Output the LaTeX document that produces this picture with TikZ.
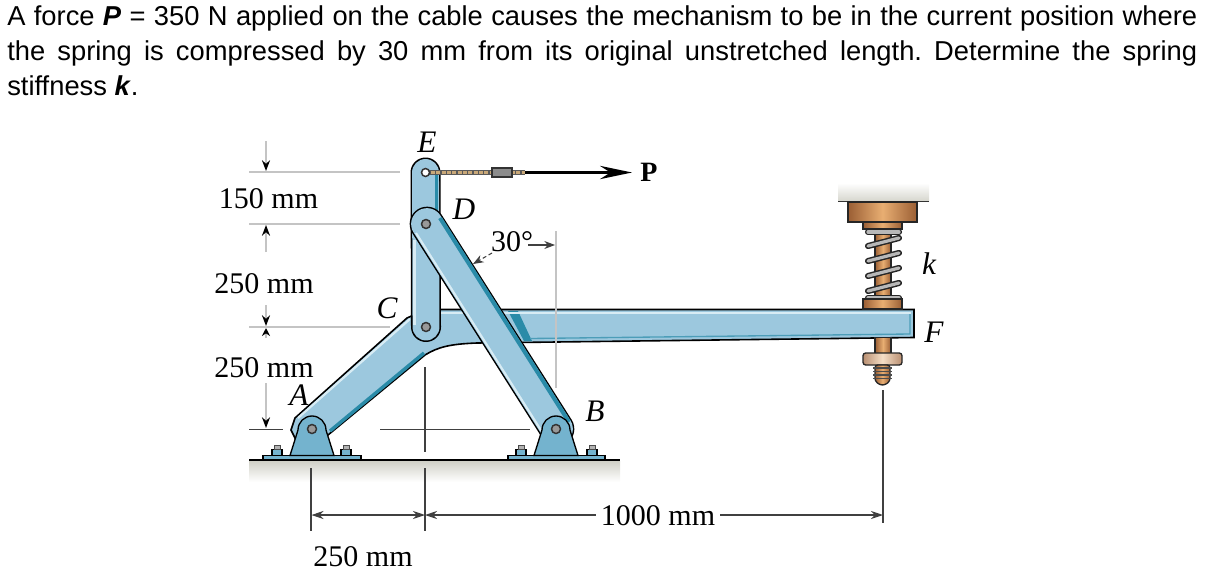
\documentclass[tikz,border=0pt]{standalone}
\usepackage{fontspec}
\setmainfont{Liberation Serif}
\newfontfamily\arialf{Liberation Sans}
\usetikzlibrary{arrows.meta}
\definecolor{blu}{HTML}{9CC8DE}
\definecolor{teal2}{HTML}{2A8BA8}
\definecolor{lite}{HTML}{D8ECF4}
\definecolor{clev}{HTML}{74B3CE}
\definecolor{dimgray}{HTML}{C4C4C4}
\definecolor{cu}{HTML}{B87A48}
\definecolor{cul}{HTML}{E8AE72}
\definecolor{cud}{HTML}{9A5E34}
\definecolor{tan2}{HTML}{C9A878}
\tikzset{
  x=0.75pt,y=-0.75pt,
  lab/.style={inner sep=0pt,font=\fontsize{22.5}{27}\selectfont},
  ilab/.style={inner sep=0pt,font=\fontsize{23.5}{26}\selectfont\itshape},
  extl/.style={draw=dimgray,line width=2pt},
  thinl/.style={draw=black!75,line width=0.8pt},
  body/.style={draw=black,line width=1.2pt,fill=blu},
  pinout/.style={draw=black!80,fill=black!40,line width=1.1pt},
  plate/.style={draw=black,line width=1pt,fill=clev},
  copper/.style={draw=black!85,line width=1pt,left color=cud,right color=cud,middle color=cul},
  strand/.style={line cap=round,line width=4.6pt,draw=black!85},
  strandin/.style={line cap=round,line width=2.4pt,draw=black!28},
}
\begin{document}
\begin{tikzpicture}
\useasboundingbox (0,0) rectangle (1207,578);
\node[anchor=north west,inner sep=0pt,text width=892.5pt,align=justify,font=\arialf\fontsize{20.5}{26.25}\selectfont\frenchspacing] (prob) at (7,5.5)
 {A force \textbf{\textit{P}} = 350 N applied on the cable causes the mechanism to be in the current position where\linebreak
  the spring is compressed by 30 mm from its original unstretched length. Determine the spring\linebreak
  stiffness \textbf{\textit{k}}.};
% named points
\coordinate (E) at (425.5,172.5);
\coordinate (D) at (426,224);
\coordinate (Dc) at (427,224);
\coordinate (Bc) at (557,429);
\coordinate (C) at (426,327);
\coordinate (A) at (312,429);
\coordinate (B) at (556,429);
% ground
\shade[top color=black!5!yellow!10!gray!40,bottom color=white] (249,461) rectangle (620,482);
\draw[black,line width=1pt] (249,460) -- (620,460);
% ceiling
\shade[top color=white,bottom color=black!5!yellow!10!gray!35] (838,183) rectangle (929,201);
\draw[black!80,line width=1pt] (838,201.5) -- (929,201.5);
% extension and centre lines
\draw[extl] (249,172) -- (400,172);
\draw[extl] (249,224) -- (400,224);
\draw[extl] (249,327) -- (390,327);
\draw[thinl] (249,429.5) -- (283,429.5);
\draw[thinl] (380,429.5) -- (530,429.5);
\draw[thinl] (425,367) -- (425,452);
\draw[thinl] (425,468) -- (425,531);
\draw[thinl] (311,468) -- (311,531);
\draw[thinl] (883,390) -- (883,523);
% bent member
\draw[body] (914,309.5) -- (914,337.5) -- (477,343) .. controls (450,344) and (438,347) .. (425,355) -- (328,435)
   -- (312,442) -- (296,440) -- (291,430) -- (295,418) -- (407,318) -- (426,309.5) -- cycle;
\fill[teal2] (508,311) -- (518,311) -- (532,341) -- (524,341) -- cycle;
\draw[teal2,line width=2.6pt] (330,431) -- (424,353);
\draw[lite,line width=1.6pt] (298,418) -- (410,319);
\draw[lite,line width=1.2pt] (440,313) -- (911,313);
\draw[teal2!70!blu,line width=1pt] (910,314) -- (910,334) -- (530,338.5);
% 30 deg reference line over member
\draw[extl] (556,231) -- (556,388);
% EC link
\draw[black,line width=22.5pt,line cap=round] (E) -- (C);
\draw[blu,line width=20.2pt,line cap=round] (E) -- (C);
\draw[teal2,line width=2.6pt] (436.5,174) -- (436.5,222);
\draw[lite,line width=1.6pt] (414.5,240) -- (414.5,325);
\draw[pinout] (C) circle[radius=4.5];
% DB link
\draw[black,line width=26pt,line cap=round] (Dc) -- (Bc);
\draw[blu,line width=23.8pt,line cap=round] (Dc) -- (Bc);
\draw[teal2,line width=3pt] (440,218) -- (569,422);
\draw[lite,line width=1.6pt] (416,233) -- (544,435);
\draw[pinout] (D) circle[radius=4.5];
% supports
\foreach \cx/\pl/\pr/\ba/\bb in {312/263/361/277/346,556/508/605/521/592}{
  \draw[plate] (\pl,455.5) rectangle (\pr,460);
  \draw[plate] (\ba-5,449.5) rectangle (\ba+5,455.5);
  \draw[plate] (\bb-5,449.5) rectangle (\bb+5,455.5);
  \fill[black!30,draw=black!70,line width=.5pt] (\ba-3,449.5) rectangle (\ba+3,445.5);
  \fill[black!30,draw=black!70,line width=.5pt] (\bb-3,449.5) rectangle (\bb+3,445.5);
  \draw[plate] (\cx-22,455.5) -- (\cx-14,430) arc[start angle=180,end angle=360,radius=14] -- (\cx+22,455.5) -- cycle;
  \draw[pinout] (\cx,429) circle[radius=4.5];
}
% cable
\draw[black,line width=2.2pt] (520,172.5) -- (600,172.5);
\draw[-{Stealth[length=24pt,width=10pt]},black,line width=1.6pt] (590,172.5) -- (632,172.5);
\draw[draw=black!65,line width=3.6pt] (E) -- (525,172.5);
\draw[draw=tan2,line width=2.4pt,dash pattern=on 3pt off 1pt] (E) -- (525,172.5);
\draw[pinout,fill=white] (E) circle[radius=4];
\fill[black!45,draw=black!80,line width=.8pt] (492,168) rectangle (512,177);
% spring assembly
\draw[copper] (848,202) rectangle (917,222);
\draw[copper] (875,222) rectangle (891,300);
\draw[copper] (863,222) rectangle (902,229);
\foreach \yl/\yr in {232/232,246/238,261/253,276/268,291/283,298/298}{
  \draw[strand] (868,\yl) -- (899,\yr);
  \draw[strandin] (868,\yl) -- (899,\yr);
}
\draw[copper] (863,299) rectangle (902,309);
\draw[copper] (875,337.5) rectangle (891,354);
\draw[draw=black!85,line width=1pt,left color=cud!70,right color=cud!70,middle color=cul!40,rounded corners=2pt] (863,353) rectangle (902,365);
\draw[copper,rounded corners=2pt] (875,365) -- (875,381) -- (880,385) -- (885,385) -- (890,381) -- (890,365) -- cycle;
\foreach \t in {368,371.5,375,378.5}{\draw[black!70,line width=1.2pt] (873,\t) -- (892,\t);}
% dimension arrows
\coordinate (d1) at (266,141); \coordinate (d1e) at (266,171);
\coordinate (d2) at (266,252); \coordinate (d2e) at (266,225);
\coordinate (d3) at (266,305); \coordinate (d3e) at (266,326);
\coordinate (d4) at (266,338); \coordinate (d4e) at (266,328);
\coordinate (d5) at (266,383); \coordinate (d5e) at (266,428);
\draw[extl,-{Stealth[length=8pt,width=6pt,black]}] (d1) -- (d1e);
\draw[extl,-{Stealth[length=8pt,width=6pt,black]}] (d2) -- (d2e);
\draw[extl,-{Stealth[length=8pt,width=6pt,black]}] (d3) -- (d3e);
\draw[extl,-{Stealth[length=6pt,width=6pt,black]}] (d4) -- (d4e);
\draw[extl,-{Stealth[length=8pt,width=6pt,black]}] (d5) -- (d5e);
\coordinate (h1) at (311.5,515); \coordinate (h2) at (425,515); \coordinate (h3) at (883,515);
\draw[thinl,{Stealth[length=9pt,width=6pt]}-{Stealth[length=9pt,width=6pt]}] (h1) -- (h2);
\draw[thinl,{Stealth[length=9pt,width=6pt]}-] (h2) -- (596,515);
\draw[thinl,-{Stealth[length=9pt,width=6pt]}] (720,515) -- (h3);
% 30 degree arrows
\draw[thinl,densely dashed,-{Stealth[length=8pt,width=6pt]}] (492,253) -- (473,264);
\draw[thinl,-{Stealth[length=8pt,width=6pt]}] (528,245) -- (555,245);
% text labels
\node[lab] (l150) at (268.5,199) {150 mm};
\node[lab] (l250a) at (264,284) {250 mm};
\node[lab] (l250b) at (264,368) {250 mm};
\node[lab] (l250c) at (363,557) {250 mm};
\node[lab] (l1000) at (658,516) {1000 mm};
\node[lab] (l30) at (512,242) {30°};
\node[ilab] (lE) at (427,142) {E};
\node[ilab] (lD) at (464,209) {D};
\node[ilab] (lC) at (387,308) {C};
\node[ilab] (lA) at (299,395) {A};
\node[ilab] (lB) at (595,411) {B};
\node[ilab] (lk) at (929,264) {k};
\node[ilab] (lF) at (934,332) {F};
\node[inner sep=0pt,font=\bfseries\fontsize{21}{25}\selectfont] (lP) at (649,172) {P};
\end{tikzpicture}
\end{document}
